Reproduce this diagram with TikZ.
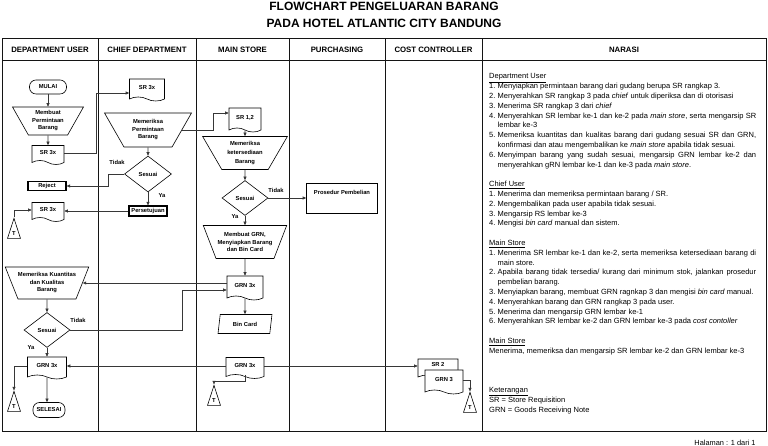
\documentclass[tikz,border=0pt]{standalone}
\usepackage{fontspec}
\setmainfont{Liberation Sans}
\usepackage{xcolor}
\definecolor{fcline}{RGB}{55,55,55}
\definecolor{fcframe}{RGB}{20,20,20}
\usetikzlibrary{arrows.meta,shapes.geometric,shapes.symbols}
\newcommand{\fcfont}{\fontsize{5.8}{7.5}\selectfont\bfseries}
\newcommand{\nitem}[2]{\par\noindent\hangindent=8.5pt\hangafter=1\makebox[8.5pt][l]{#1.}#2}
\hyphenpenalty=10000
\exhyphenpenalty=10000

\begin{document}
\begin{tikzpicture}[x=1pt, y=1pt,
  lane/.style={draw=fcframe, line width=1pt},
  hdr/.style={font=\fontsize{7.8}{9}\selectfont\bfseries, inner sep=0pt},
  ttl/.style={font=\fontsize{12}{14}\selectfont\bfseries, inner sep=0pt},
  termbox/.style={rectangle, rounded corners=6.5pt, draw, line width=0.6pt,
                  minimum width=37pt, minimum height=14pt, inner sep=1pt, font=\fcfont},
  manbox/.style={trapezium, shape border rotate=180, trapezium left angle=58,
                 trapezium right angle=58, trapezium stretches=true, draw, line width=0.6pt,
                 minimum width=84pt, minimum height=32pt, inner sep=0pt, align=center, font=\fcfont},
  docbox/.style={tape, tape bend top=none, tape bend bottom=out and in, tape bend height=4pt,
                 draw, line width=0.6pt, fill=white, minimum width=35pt, minimum height=21pt,
                 inner sep=1pt, font=\fcfont},
  decbox/.style={diamond, draw, line width=0.6pt, minimum width=46pt, minimum height=35pt,
                 inner sep=0pt, font=\fcfont},
  procbox/.style={rectangle, draw, line width=1.2pt, minimum width=38pt, minimum height=9pt,
                  inner sep=0.5pt, font=\fcfont},
  pbox/.style={rectangle, draw, line width=0.6pt, minimum width=71pt, minimum height=30pt,
               font=\fcfont},
  iobox/.style={trapezium, trapezium left angle=76, trapezium right angle=104,
                trapezium stretches=true, draw, line width=0.6pt, minimum width=54pt,
                minimum height=19pt, inner sep=0pt, font=\fcfont},
  tribox/.style={isosceles triangle, shape border rotate=90, isosceles triangle apex angle=36,
                 isosceles triangle stretches, draw, line width=0.6pt, minimum width=13pt,
                 minimum height=20pt, inner sep=0.5pt, font=\fcfont},
  lbl/.style={font=\fcfont, inner sep=0pt},
  farr/.style={-{Triangle[length=3.5pt,width=3pt]}, draw=fcline, line width=0.6pt},
  nartext/.style={text width=267pt, align=justify, inner sep=0pt,
                  font=\fontsize{7.5}{9.8}\selectfont}
]
\useasboundingbox (0,0) rectangle (768,446);

% Title
\node[ttl] (title1) at (384,440) {FLOWCHART PENGELUARAN BARANG};
\node[ttl] (title2) at (384,423) {PADA HOTEL ATLANTIC CITY BANDUNG};

% Lanes
\draw[lane] (2,14) rectangle (766,407);
\draw[lane] (2,385) -- (766,385);
\foreach \x in {98,196,289,385,482}
  \draw[lane] (\x,14) -- (\x,407);

\node[hdr] (hdu) at (50,396)    {DEPARTMENT USER};
\node[hdr] (hcd) at (147,396)   {CHIEF DEPARTMENT};
\node[hdr] (hms) at (242.5,396) {MAIN STORE};
\node[hdr] (hpu) at (337,396)   {PURCHASING};
\node[hdr] (hcc) at (433.5,396) {COST CONTROLLER};
\node[hdr] (hna) at (624,396)   {NARASI};

% Department User
\node[termbox] (mulai) at (48,359) {MULAI};
\node[manbox, minimum width=71pt, minimum height=28pt] (buat) at (48,325) {Membuat\\Permintaan\\Barang};
\node[docbox, minimum width=32pt, minimum height=19pt] (srdu) at (48,293) {SR 3x};
\node[procbox] (reject) at (47,260) {Reject};
\node[docbox, minimum width=32pt, minimum height=19pt] (srdub) at (48,236) {SR 3x};
\node[tribox] (tdu) at (14,212) {T};
\node[manbox] (cekkk) at (47,163) {Memeriksa Kuantitas\\dan Kualitas\\Barang};
\node[decbox] (sesdu) at (47,116) {Sesuai};
\node[docbox, minimum width=39pt, minimum height=22pt] (grndu) at (47,80) {GRN 3x};
\node[tribox] (tdub) at (14,39) {T};
\node[termbox, minimum width=32pt, minimum height=15pt] (selesai) at (49,36) {SELESAI};

% Chief Department
\node[docbox, minimum height=22pt] (srcd) at (147,358) {SR 3x};
\node[manbox, minimum width=87pt, minimum height=34pt] (cekpb) at (148,316) {Memeriksa\\Permintaan\\Barang};
\node[decbox, minimum width=47pt, minimum height=36pt] (sescd) at (148,272) {Sesuai};
\node[procbox, minimum height=10pt] (setuju) at (148,235) {Persetujuan};

% Main Store
\node[docbox, minimum width=32pt, minimum height=24pt] (srms) at (245,328) {SR 1,2};
\node[manbox, minimum width=85pt, minimum height=33pt, font=\fontsize{5.8}{9}\selectfont\bfseries] (cekks) at (245,293) {Memeriksa\\ketersediaan\\Barang};
\node[decbox] (sesms) at (245,248) {Sesuai};
\node[manbox, minimum height=33pt] (buatgrn) at (245,204) {Membuat GRN,\\Menyiapkan Barang\\dan Bin Card};
\node[docbox, minimum width=36pt, minimum height=24pt] (grnms) at (245,160) {GRN 3x};
\node[iobox] (bincard) at (245,122) {Bin Card};
\node[docbox, minimum width=38pt] (grnmsb) at (245,80) {GRN 3x};
\node[tribox] (tms) at (214,45) {T};

% Purchasing
\node[pbox, text depth=11pt] (beli) at (342,248) {Prosedur Pembelian};

% Cost Controller
\node[docbox, minimum width=40pt, minimum height=20pt, text depth=5pt] (srcc) at (438,79) {SR 2};
\node[docbox, minimum width=38pt, minimum height=24pt] (grncc) at (444,66) {GRN 3};
\node[tribox] (tcc) at (470,38) {T};

% Labels
\node[lbl] (tdk1) at (117,284) {Tidak};
\node[lbl] (ya1)  at (162,250) {Ya};
\node[lbl] (tdk2) at (276,256) {Tidak};
\node[lbl] (ya2)  at (235,229) {Ya};
\node[lbl] (tdk3) at (78,126)  {Tidak};
\node[lbl] (ya3)  at (31,98)   {Ya};

% Arrows
\draw[farr] (mulai) -- (buat);
\draw[farr] (buat) -- (srdu);
\draw[farr] (srdu.east) -- ++(32,0) |- ([yshift=-5pt]srcd.west);
\draw[farr] (cekpb) -- (sescd);
\draw[farr] (sescd.west) -- ++(-16,0) |- (reject.east);
\draw[farr] (sescd) -- (setuju);
\draw[farr] (setuju.west) -- (setuju.west -| srdub.east);
\draw[farr] (tdu.apex) |- (srdub.west);
\draw[farr] (cekpb.east) -- ++(31,0) |- ([yshift=5pt]srms.west);
\draw[farr] (srms) -- (cekks);
\draw[farr] (cekks) -- (sesms);
\draw[farr] (sesms) -- (beli);
\draw[farr] (sesms) -- (buatgrn);
\draw[farr] (buatgrn) -- (grnms);
\draw[farr] (grnms) -- (bincard);
\draw[farr] (cekkk.east -| grnms.west) -- (cekkk.east);
\draw[farr] (cekkk) -- (sesdu);
\draw[farr] (sesdu.east) -- ++(112,0) |- ([yshift=-4pt]grnms.west);
\draw[farr] (sesdu) -- (grndu);
\draw[farr] (grndu) -- (grndu |- selesai.north);
\draw[farr] (grndu.west) -| (tdub.apex);
\draw[farr] (grnmsb.west) -- (grnmsb.west -| grndu.east);
\draw[farr] (grnmsb.east) -- (grnmsb.east -| srcc.west);
\draw[farr] (grnmsb.south) -- ++(0,-7) -| (tms.apex);
\draw[farr] (grncc.east) -| (tcc.apex);

% Narasi
\node[nartext, anchor=north west] (narasi) at (489,372.5) {%
\noindent\underline{Department User}
\nitem{1}{Menyiapkan permintaan barang dari gudang berupa SR rangkap 3.}
\nitem{2}{Menyerahkan SR rangkap 3 pada \textit{chief} untuk diperiksa dan di otorisasi}
\nitem{3}{Menerima SR rangkap 3 dari \textit{chief}}
\nitem{4}{Menyerahkan SR lembar ke-1 dan ke-2 pada \textit{main store}, serta mengarsip SR\linebreak lembar ke-3}
\nitem{5}{Memeriksa kuantitas dan kualitas barang dari gudang sesuai SR dan GRN,\linebreak konfirmasi dan atau mengembalikan ke \textit{main store} apabila tidak sesuai.}
\nitem{6}{Menyimpan barang yang sudah sesuai, mengarsip GRN lembar ke-2 dan\linebreak menyerahkan gRN lembar ke-1 dan ke-3 pada \textit{main store}.}
\par\vspace{9.8pt}
\noindent\underline{Chief User}
\nitem{1}{Menerima dan memeriksa permintaan barang / SR.}
\nitem{2}{Mengembalikan pada user apabila tidak sesuai.}
\nitem{3}{Mengarsip RS lembar ke-3}
\nitem{4}{Mengisi \textit{bin card} manual dan sistem.}
\par\vspace{9.8pt}
\noindent\underline{Main Store}
\nitem{1}{Menerima SR lembar ke-1 dan ke-2, serta memeriksa ketersediaan barang di\linebreak main store.}
\nitem{2}{Apabila barang tidak tersedia/ kurang dari minimum stok, jalankan prosedur\linebreak pembelian barang.}
\nitem{3}{Menyiapkan barang, membuat GRN ragnkap 3 dan mengisi \textit{bin card} manual.}
\nitem{4}{Menyerahkan barang dan GRN rangkap 3 pada user.}
\nitem{5}{Menerima dan mengarsip GRN lembar ke-1}
\nitem{6}{Menyerahkan SR lembar ke-2 dan GRN lembar ke-3 pada \textit{cost contoller}}
\par\vspace{9.8pt}
\noindent\underline{Main Store}\par
\noindent Menerima, memeriksa dan mengarsip SR lembar ke-2 dan GRN lembar ke-3
\par\vspace{29.4pt}
\noindent\underline{Keterangan}\par
\noindent SR = Store Requisition\par
\noindent GRN = Goods Receiving Note};

\node[font=\fontsize{7.4}{9}\selectfont, inner sep=0pt] (hal) at (725,3.5) {Halaman : 1 dari 1};
\end{tikzpicture}
\end{document}
